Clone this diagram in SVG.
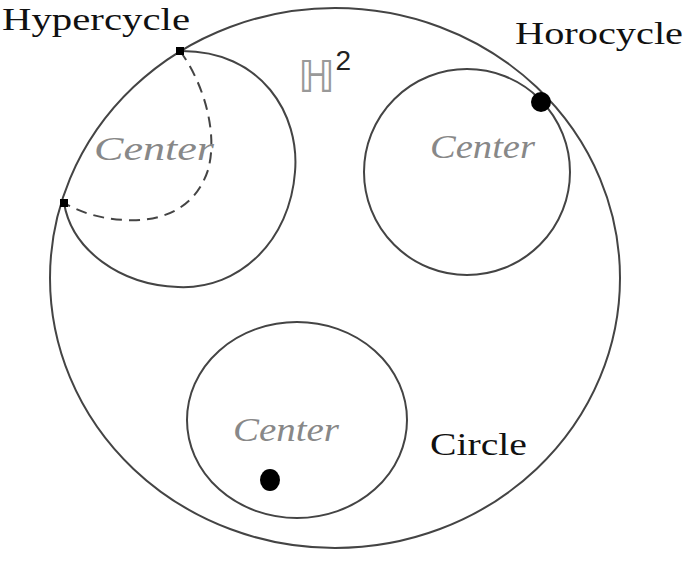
<svg xmlns="http://www.w3.org/2000/svg" width="685" height="578" viewBox="0 0 685 578">
<style>
.c{fill:none;stroke:#444;stroke-width:2}
.lab{font-family:"Liberation Serif",serif;font-size:31px;fill:#111}
.ctr{font-family:"Liberation Serif",serif;font-style:italic;font-size:34px;fill:#888}
</style>
<rect width="685" height="578" fill="#fff"/>
<g id="outer"><ellipse class="c" cx="335" cy="278" rx="285" ry="270"/></g>
<g id="hypercycle">
<path class="c" d="M180,51 C262,50 300,115 295,172 C290,240 240,290 178,287 C120,285 72,250 64,203"/>
<path class="c" stroke-dasharray="11,7" d="M180,51 C205,85 218,135 208,170 C195,210 160,222 125,220 C100,219 80,212 64,203"/>
<rect x="176" y="47" width="8" height="8" fill="#000"/>
<rect x="60" y="199" width="8" height="8" fill="#000"/>
<text class="ctr" x="94" y="160" textLength="120" lengthAdjust="spacingAndGlyphs">Center</text>
<text class="lab" x="2" y="30" textLength="188" lengthAdjust="spacingAndGlyphs">Hypercycle</text>
</g>
<g id="horocycle">
<circle class="c" cx="467" cy="172" r="103"/>
<circle cx="541" cy="102" r="10" fill="#000"/>
<text class="ctr" x="430" y="158" textLength="105" lengthAdjust="spacingAndGlyphs">Center</text>
<text class="lab" x="515" y="44" textLength="168" lengthAdjust="spacingAndGlyphs">Horocycle</text>
</g>
<g id="circle">
<ellipse class="c" cx="297" cy="420" rx="110" ry="98"/>
<ellipse cx="270" cy="480" rx="10" ry="11" fill="#000"/>
<text class="ctr" x="233" y="441" textLength="106" lengthAdjust="spacingAndGlyphs">Center</text>
<text class="lab" x="430" y="455" textLength="97" lengthAdjust="spacingAndGlyphs">Circle</text>
</g>
<g id="label"><text font-family="DejaVu Sans,sans-serif" font-size="44" fill="#999" x="298" y="92">ℍ<tspan font-family="Liberation Sans,sans-serif" font-size="28" fill="#222" dy="-22">2</tspan></text></g>
<g id="connectors"/>
</svg>
